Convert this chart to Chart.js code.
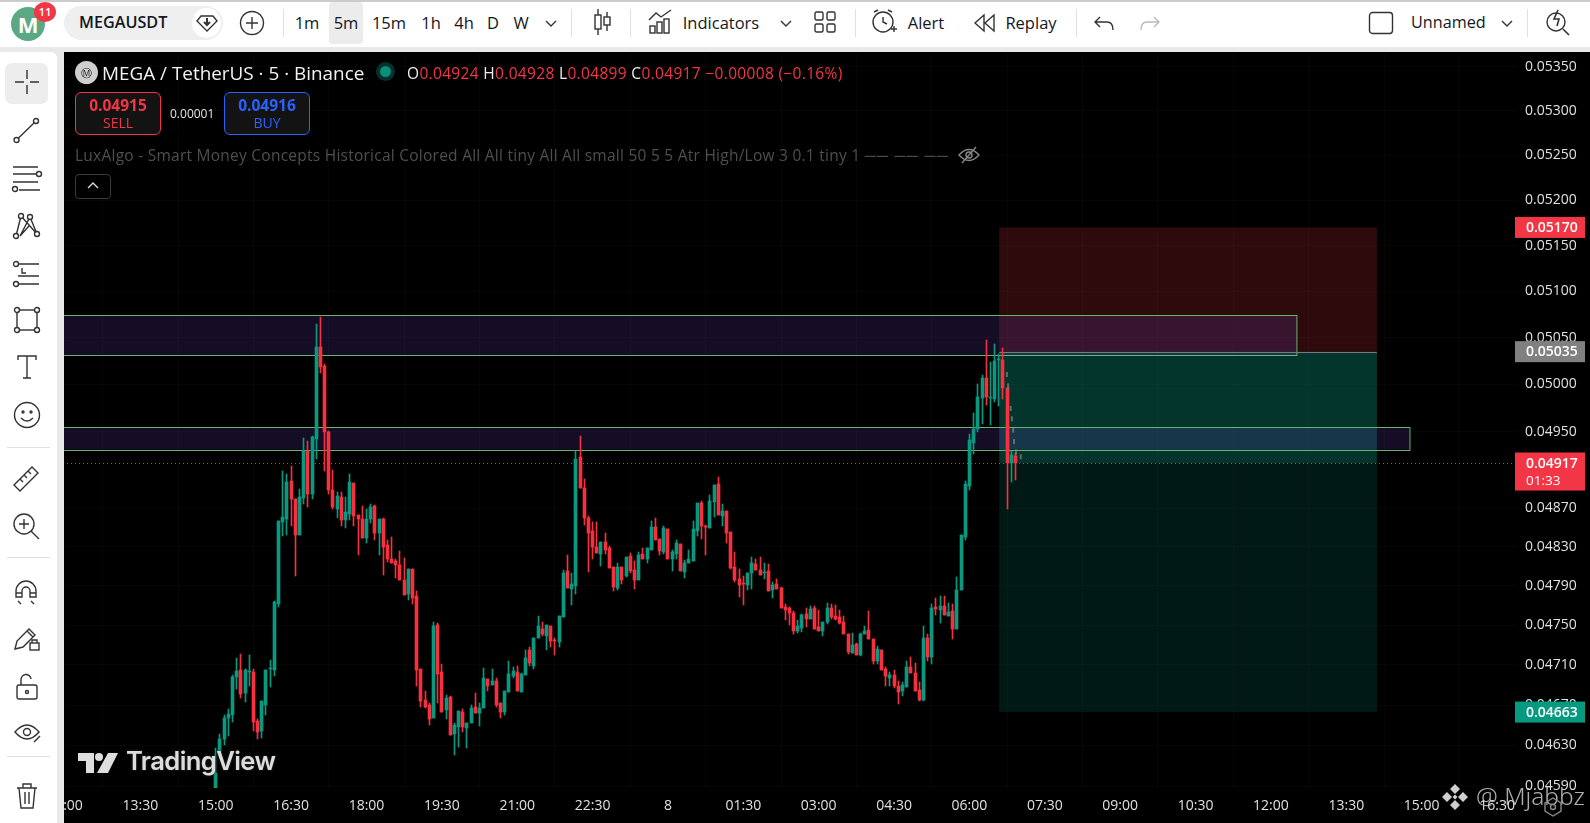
<!DOCTYPE html>
<html><head><meta charset="utf-8">
<script src="https://cdn.jsdelivr.net/npm/chart.js@4"></script>
<style>
html,body{margin:0;padding:0;width:1590px;height:823px;overflow:hidden;background:#e9e9e9;font-family:"Open Sans","Noto Sans",sans-serif}
.a{position:absolute;white-space:nowrap}
#chartbg{position:absolute;left:64px;top:52px;width:1526px;height:771px;background:#000}
#wrap{position:absolute;left:0;top:42px;width:1590px;height:781px}
#top{position:absolute;left:0;top:0;width:1590px;height:47px;background:#fff;box-shadow:inset 0 2px 0 #ccc}
#gap{position:absolute;left:0;top:47px;width:1590px;height:5px;background:#e9e9e9}
#side{position:absolute;left:0;top:52px;width:57px;height:771px;background:#fff;border-top-right-radius:6px}
#gap2{position:absolute;left:57px;top:47px;width:7px;height:776px;background:#e9e9e9}
.t{font-size:16.5px;color:#131722;transform:translateX(-50%);top:11px}
.sep{position:absolute;top:9px;width:1px;height:28px;background:#e0e0e0}
svg{position:absolute;overflow:visible;fill:none;stroke:#333;stroke-width:1.4}
.hsep{position:absolute;left:7px;width:43px;height:1px;background:#e0e0e0}
</style></head><body>
<div id="chartbg"></div>
<div id="wrap"><canvas id="c" width="1590" height="781"></canvas></div>

<div class="a" style="left:78px;top:753px">
 <svg width="40" height="20" style="left:0;top:0;stroke:none;fill:#ddd" viewBox="0 0 40 20"><path d="M0 0H16V20H8V8H0Z"/><circle cx="21" cy="4" r="4"/><path d="M30 0H40L30 20H19Z"/></svg>
 <span class="a" style="left:48px;top:-8px;font:600 25.6px Inter,sans-serif;letter-spacing:-.6px;color:#ddd;text-shadow:0 0 3px #333">TradingView</span>
</div>
<div class="a" style="left:102px;top:60px;font-size:18.9px;color:#f2f2f2;font-weight:500">MEGA / TetherUS · 5 · Binance</div>
<div class="a" style="left:75px;top:61px;width:23px;height:23px;border-radius:50%;background:#cfcfcf;color:#222;font-size:11px;line-height:23px;text-align:center">Ⓜ</div>
<div class="a" style="left:380px;top:66px;width:11px;height:11px;border-radius:50%;background:#0b8f78;box-shadow:0 0 0 4px #06302b"></div>
<div class="a" style="left:407px;top:62px;font-size:15.5px;letter-spacing:.33px;color:#f23645"><span style="color:#eee">O</span>0.04924 <span style="color:#eee">H</span>0.04928 <span style="color:#eee">L</span>0.04899 <span style="color:#eee">C</span>0.04917 −0.00008 (−0.16%)</div>
<div class="a" style="left:75px;top:92px;width:86px;height:43px;box-sizing:border-box;border:1px solid #f23645;border-radius:6px;background:#131313;color:#f23645;text-align:center">
 <div style="font-weight:700;font-size:15.5px;line-height:18px;margin-top:3px">0.04915</div><div style="font-size:14px;line-height:18px">SELL</div></div>
<div class="a" style="left:170px;top:105px;font-size:12px;color:#e5e5e5">0.00001</div>
<div class="a" style="left:224px;top:92px;width:86px;height:43px;box-sizing:border-box;border:1px solid #2962ff;border-radius:6px;background:#131313;color:#2962ff;text-align:center">
 <div style="font-weight:700;font-size:15.5px;line-height:18px;margin-top:3px">0.04916</div><div style="font-size:14px;line-height:18px">BUY</div></div>
<div class="a" style="left:75px;top:144px;font-size:15.5px;letter-spacing:.25px;color:#4f4f4f">LuxAlgo - Smart Money Concepts Historical Colored All All tiny All All small 50 5 5 Atr High/Low 3 0.1 tiny 1 <span style="letter-spacing:1.3px">── ── ──</span></div>
<svg width="22" height="18" style="left:958px;top:146px;stroke:#888"><path d="M1 9Q11 -2 21 9Q11 20 1 9Z"/><circle cx="11" cy="9" r="3"/><path d="M4 17L18 1"/></svg>
<div class="a" style="left:75px;top:174px;width:36px;height:25px;box-sizing:border-box;border:1px solid #3a3a3a;border-radius:4px"></div>
<svg width="10" height="6" style="left:88px;top:183px;stroke:#ddd"><path d="M0 5L5 0L10 5"/></svg>

<div class="a" style="left:1476px;top:779px;font:300 24.5px 'Noto Sans',sans-serif;color:rgba(205,205,205,.85)">@ Mjabbz</div>
<svg width="26" height="26" viewBox="0 0 26 26" style="left:1442px;top:784px;stroke:none;fill:#cfcfcf"><path d="M13 0L18 5L13 10L8 5ZM5 8L10 13L5 18L0 13ZM21 8L26 13L21 18L16 13ZM13 16L18 21L13 26L8 21ZM13 10.5L15.5 13L13 15.5L10.5 13Z"/></svg>
<svg width="18" height="18" style="left:1544px;top:798px;stroke:#888"><path d="M9 0L17 5V13L9 18L1 13V5Z"/><circle cx="9" cy="9" r="2.5"/></svg>

<div id="gap"></div><div id="gap2"></div>
<div id="top">
 <div class="a" style="left:11px;top:7px;width:34px;height:34px;border-radius:50%;background:#5aa884;color:#fff;font-size:22px;font-weight:700;line-height:34px;text-align:center">M</div>
 <div class="a" style="left:34px;top:2px;width:22px;height:20px;border-radius:50%;background:#f23645;color:#fff;font-size:11.5px;line-height:20px;text-align:center;font-weight:600">11</div>
 <div class="a" style="left:64px;top:6px;width:159px;height:34px;border-radius:17px;background:#efefef"></div>
 <div class="a" style="left:79px;top:11px;font-size:16.2px;font-weight:600;color:#131722">MEGAUSDT</div>
 <div class="a" style="left:192px;top:8px;width:29px;height:30px;border-radius:50%;background:#fff"></div>
 <svg width="20" height="16" style="left:197px;top:15px"><path d="M4 1H16L20 6L10 16L0 6Z"/><path d="M10 3V9M7 7L10 10L13 7" stroke-width="2"/></svg>
 <svg width="24" height="24" style="left:240px;top:11px"><circle cx="12" cy="12" r="11.5"/><path d="M12 6V18M6 12H18"/></svg>
 <div class="sep" style="left:283px"></div>
 <div class="a" style="left:329px;top:2px;width:34px;height:42px;background:#ececec;border-radius:4px"></div>
 <div class="a t" style="left:307px">1m</div><div class="a t" style="left:346px">5m</div><div class="a t" style="left:389px">15m</div>
 <div class="a t" style="left:431px">1h</div><div class="a t" style="left:464px">4h</div><div class="a t" style="left:493px">D</div><div class="a t" style="left:521px">W</div>
 <svg width="10" height="5" style="left:546px;top:21px"><path d="M0 0L5 5L10 0"/></svg>
 <div class="sep" style="left:571px"></div>
 <svg width="20" height="26" style="left:592px;top:9px"><path d="M6 0V26M15 3V22"/><rect x="3" y="6" width="6" height="14" fill="#fff"/><rect x="12" y="8" width="6" height="8" fill="#fff"/></svg>
 <div class="sep" style="left:630px"></div>
 <svg width="24" height="24" style="left:649px;top:10px"><path d="M0 10L7 3L12 7L22 0"/><rect x="1" y="16" width="5" height="7"/><rect x="8" y="12" width="5" height="11"/><rect x="15" y="9" width="5" height="14"/></svg>
 <div class="a t" style="left:721px">Indicators</div>
 <svg width="10" height="5" style="left:781px;top:21px"><path d="M0 0L5 5L10 0"/></svg>
 <svg width="22" height="22" style="left:814px;top:11px"><rect x="1" y="1" width="8" height="8" rx="1.5"/><rect x="13" y="1" width="8" height="8" rx="1.5"/><rect x="1" y="13" width="8" height="8" rx="1.5"/><rect x="13" y="13" width="8" height="8" rx="1.5"/></svg>
 <div class="sep" style="left:855px"></div>
 <svg width="26" height="26" style="left:871px;top:9px"><circle cx="12" cy="13" r="10"/><path d="M12 8V13L16 15M3 3L7 1M21 3L17 1M20 20H26M23 17V23"/></svg>
 <div class="a t" style="left:926px">Alert</div>
 <svg width="22" height="16" style="left:973px;top:15px"><path d="M11 0L2 8L11 16ZM21 0L12 8L21 16Z"/></svg>
 <div class="a t" style="left:1031px">Replay</div>
 <div class="sep" style="left:1076px"></div>
 <svg width="18" height="12" style="left:1095px;top:17px"><path d="M5 0L0 5L5 10M0 5H12Q18 5 18 13"/></svg>
 <svg width="18" height="12" style="left:1141px;top:17px;stroke:#bbb"><path d="M13 0L18 5L13 10M18 5H6Q0 5 0 13"/></svg>
 <svg width="24" height="21" style="left:1369px;top:12px"><rect x="0.5" y="0.5" width="23" height="21" rx="3"/></svg>
 <div class="a" style="left:1411px;top:11px;font-size:16.2px;color:#131722">Unnamed</div>
 <svg width="10" height="5" style="left:1502px;top:21px"><path d="M0 0L5 5L10 0"/></svg>
 <div class="sep" style="left:1527px"></div>
 <svg width="24" height="26" style="left:1546px;top:8px"><circle cx="10" cy="14" r="9"/><path d="M17 21L23 27M12 2L8 11H13L11 18" stroke-width="1.6"/></svg>
</div>
<div id="side">
 <div class="a" style="left:5px;top:11px;width:43px;height:41px;background:#ededed;border-radius:7px"></div>
 <svg width="30" height="30" style="left:12px;top:15px"><path d="M15 3V12M15 18V27M3 15H12M18 15H27"/></svg>
 <svg width="24" height="24" style="left:14px;top:66px"><circle cx="22" cy="3" r="2.5"/><circle cx="2.5" cy="22" r="2.5"/><path d="M20 5L4.5 20"/></svg>
 <svg width="30" height="24" style="left:12px;top:114px"><path d="M1 1H26M1 8H24M1 16H26M7 24H28"/><circle cx="27" cy="8" r="2.5"/><circle cx="3" cy="23" r="2.5"/></svg>
 <svg width="26" height="26" style="left:13px;top:160px"><path d="M3 24L8 4L24 22L17 5L7 24L16 14"/><circle cx="3" cy="24" r="2.5" fill="#fff"/><circle cx="8" cy="4" r="2.5" fill="#fff"/><circle cx="24" cy="22" r="2.5" fill="#fff"/><circle cx="17" cy="5" r="2.5" fill="#fff"/></svg>
 <svg width="30" height="26" style="left:13px;top:209px"><circle cx="3" cy="3" r="2.5"/><circle cx="3" cy="23" r="2.5"/><path d="M6 3H26M5 15H26M6 23H26M9 7V12H13"/></svg>
 <svg width="26" height="26" style="left:14px;top:255px"><rect x="3" y="3" width="20" height="20"/><circle cx="3" cy="3" r="2.5" fill="#fff"/><circle cx="23" cy="3" r="2.5" fill="#fff"/><circle cx="3" cy="23" r="2.5" fill="#fff"/><circle cx="23" cy="23" r="2.5" fill="#fff"/></svg>
 <svg width="20" height="24" style="left:17px;top:303px"><path d="M1 5V1H19V5M10 1V23M6 23H14"/></svg>
 <svg width="26" height="26" style="left:14px;top:350px"><circle cx="13" cy="13" r="12.5"/><circle cx="9" cy="10" r="1"/><circle cx="17" cy="10" r="1"/><path d="M7 16Q13 22 19 16"/></svg>
 <div class="hsep" style="top:395px"></div>
 <svg width="28" height="28" style="left:12px;top:413px"><path d="M2 20L20 2L26 8L8 26ZM8 14L11 17M12 10L15 13M16 6L19 9"/></svg>
 <svg width="26" height="26" style="left:13px;top:461px"><circle cx="11" cy="11" r="10"/><path d="M18 18L26 26M6 11H16M11 6V16"/></svg>
 <div class="hsep" style="top:505px"></div>
 <svg width="24" height="28" style="left:15px;top:527px"><path d="M1 12A10 10 0 0 1 21 12V18H15V12A4 4 0 0 0 7 12V18H1ZM1 14H7M15 14H21M3 22L6 25M16 22L19 25"/></svg>
 <svg width="26" height="26" style="left:13px;top:573px"><path d="M2 24L4 16L16 4L22 10L10 22ZM14 6L20 12"/><rect x="17" y="18" width="9" height="7"/><path d="M19 18V15H24V18"/></svg>
 <svg width="22" height="26" style="left:16px;top:622px"><rect x="1" y="11" width="20" height="14" rx="2"/><path d="M5 11V6A5 5 0 0 1 15 5"/><circle cx="11" cy="18" r="1.5"/></svg>
 <svg width="26" height="22" style="left:14px;top:670px"><path d="M1 10Q13 -4 25 10Q13 24 1 10Z"/><circle cx="13" cy="10" r="3.5"/><path d="M20 20L26 14"/></svg>
 <div class="hsep" style="top:704px"></div>
 <svg width="22" height="26" style="left:16px;top:731px"><path d="M1 5H21M7 5V1H15V5M3 5L5 25H17L19 5M9 9V21M13 9V21"/></svg>
</div>

<script>
// Prices are in units of 0.00001. First candle sits at category index 36 (15:00).
const firstCandle = 36;
const open = [
4586,4624,4636,4657,4660,4698,4705,4682,4703,4703,
4654,4644,4670,4706,4705,4772,4856,4859,4898,4879,
4842,4880,4930,4885,4942,5040,5020,4950,4889,4869,
4882,4858,4864,4896,4863,4859,4839,4859,4872,4844,
4859,4832,4818,4815,4811,4796,4782,4807,4780,4706,
4675,4670,4657,4750,4703,4665,4678,4641,4648,4663,
4647,4652,4668,4662,4667,4696,4690,4694,4672,4663,
4683,4699,4703,4683,4700,4725,4709,4737,4746,4739,
4749,4735,4733,4758,4805,4787,4790,4923,4891,4860,
4846,4830,4823,4835,4829,4809,4788,4809,4800,4821,
4806,4796,4823,4817,4827,4850,4838,4825,4848,4818,
4823,4833,4804,4813,4815,4846,4875,4852,4849,4876,
4895,4862,4867,4845,4809,4797,4793,4791,4803,4812,
4806,4803,4805,4786,4792,4788,4769,4767,4762,4744,
4747,4761,4756,4768,4748,4744,4753,4767,4759,4758,
4753,4741,4722,4731,4720,4741,4745,4736,4714,4725,
4706,4697,4700,4689,4684,4688,4708,4702,4685,4675,
4737,4718,4769,4765,4770,4759,4764,4746,4786,4840,
4893,4938,4953,4986,5007,4986,4985,5026,5026,4996,
4917,4924];
const high = [
4627,4641,4660,4666,4700,4717,4721,4706,4720,4706,
4656,4674,4705,4715,4775,4857,4909,4906,4914,4879,
4890,4943,4940,4945,5065,5072,5022,4951,4910,4887,
4887,4882,4905,4896,4863,4872,4869,4874,4873,4859,
4860,4837,4840,4817,4826,4819,4807,4807,4785,4706,
4684,4672,4753,4752,4711,4680,4679,4652,4664,4666,
4652,4670,4682,4672,4707,4696,4706,4697,4672,4684,
4714,4708,4709,4702,4725,4728,4737,4759,4753,4750,
4749,4737,4759,4806,4822,4803,4930,4945,4900,4862,
4856,4856,4835,4844,4831,4809,4813,4809,4820,4824,
4815,4825,4829,4829,4857,4860,4838,4851,4848,4827,
4837,4833,4816,4827,4857,4875,4877,4853,4884,4894,
4902,4874,4867,4845,4825,4807,4800,4803,4820,4818,
4820,4813,4812,4794,4797,4789,4772,4769,4764,4755,
4761,4767,4770,4770,4765,4753,4773,4772,4771,4765,
4759,4741,4742,4732,4742,4749,4764,4736,4729,4725,
4708,4703,4705,4694,4693,4714,4718,4712,4693,4749,
4741,4772,4778,4780,4780,4773,4772,4799,4842,4898,
4948,4970,5000,5010,5048,5024,5043,5032,5039,4996,
4930,4928];
const low = [
4586,4623,4630,4639,4653,4686,4677,4673,4689,4644,
4636,4637,4660,4688,4699,4769,4841,4842,4851,4800,
4842,4874,4871,4879,4921,5012,4909,4885,4869,4860,
4851,4849,4858,4852,4822,4839,4834,4855,4837,4822,
4801,4814,4813,4798,4796,4781,4776,4772,4689,4668,
4667,4650,4657,4672,4663,4656,4640,4621,4628,4643,
4627,4652,4662,4649,4667,4684,4690,4668,4657,4660,
4683,4697,4684,4683,4700,4709,4706,4737,4739,4725,
4728,4720,4728,4758,4788,4771,4782,4891,4853,4804,
4818,4824,4810,4823,4808,4785,4786,4792,4799,4803,
4787,4796,4817,4813,4827,4837,4822,4823,4817,4805,
4818,4805,4798,4813,4815,4841,4838,4822,4849,4861,
4863,4851,4834,4807,4794,4779,4771,4786,4787,4806,
4801,4797,4785,4778,4787,4768,4755,4750,4741,4742,
4743,4748,4756,4746,4744,4739,4751,4756,4755,4751,
4741,4721,4722,4720,4719,4741,4736,4711,4711,4705,
4689,4689,4687,4671,4679,4688,4702,4684,4674,4674,
4714,4711,4760,4752,4760,4759,4736,4746,4786,4837,
4889,4926,4950,4958,4978,4957,4981,4977,4984,4869,
4897,4899];
const close = [
4603,4636,4657,4661,4698,4704,4681,4705,4704,4653,
4643,4674,4705,4707,4774,4857,4861,4897,4879,4842,
4882,4930,4885,4944,5040,5019,4950,4889,4871,4883,
4858,4866,4897,4862,4859,4839,4859,4871,4844,4859,
4830,4818,4813,4811,4796,4781,4807,4778,4705,4674,
4668,4656,4749,4701,4663,4677,4640,4650,4664,4648,
4652,4667,4662,4667,4697,4689,4694,4670,4663,4684,
4701,4704,4684,4701,4717,4712,4737,4749,4741,4750,
4734,4734,4759,4803,4788,4792,4921,4891,4860,4844,
4830,4824,4835,4827,4808,4789,4809,4796,4820,4805,
4796,4822,4818,4829,4850,4837,4826,4849,4818,4825,
4834,4805,4813,4817,4848,4875,4851,4851,4877,4894,
4863,4867,4844,4808,4796,4791,4792,4803,4813,4806,
4801,4804,4785,4791,4787,4768,4765,4762,4744,4749,
4760,4756,4766,4746,4744,4753,4767,4758,4756,4752,
4741,4723,4730,4720,4741,4744,4736,4714,4726,4705,
4699,4700,4689,4683,4690,4708,4702,4684,4675,4737,
4718,4767,4766,4770,4760,4763,4746,4786,4842,4895,
4941,4953,4987,5007,4987,4987,5025,5027,4996,4917,
4925,4917];

const priceTicks = [4590,4630,4670,4710,4750,4790,4830,4870,4950,5000,5050,5100,5150,5200,5250,5300,5350];
const timeTicks = ['12:00','13:30','15:00','16:30','18:00','19:30','21:00','22:30','8','01:30','03:00','04:30','06:00','07:30','09:00','10:30','12:00','13:30','15:00','16:30'];
const barsPerTick = 18, slotCount = 348;
const priceMin = 4588.2, priceMax = 5366.8;

// Supply zones [top, bottom, last category index]
const zoneTop = [5074, 4955], zoneBottom = [5031, 4931], zoneEnd = [294.2, 321.2];
// Short position tool
const stopPrice = 5170, entryPrice = 5035, targetPrice = 4663, lastPrice = 4917;
const toolStart = 223.1, toolEnd = 313.3;
// Faint dashed trail by the last candles
const trailIndex = [224.7,225,225.6,225.9,226.2,226.4,226.9,228];
const trailPrice = [5010,4998,4974,4963,4951,4939,4928,4923];

const GREEN = '#089981', RED = '#f5303f';
const categories = Array.from({length: slotCount}, (_, i) => i % barsPerTick === 0 ? timeTicks[i / barsPerTick] : '');
const at = (i, f) => (i >= firstCandle && i - firstCandle < open.length) ? f(i - firstCandle) : null;
const wicks = categories.map((_, i) => at(i, k => [low[k], high[k]]));
const bodies = categories.map((_, i) => at(i, k => [Math.min(open[k], close[k]), Math.max(open[k], close[k])]));
const colorOf = c => { const k = c.dataIndex - firstCandle; return close[k] >= open[k] ? GREEN : RED; };
const fmt = v => (v / 1e5).toFixed(5);

const overlay = {
  id: 'overlay',
  // keep the library's positions but land them on whole pixels, as the original candles do
  afterDatasetsUpdate(ch) {
    ch.data.datasets.forEach((_, d) => ch.getDatasetMeta(d).data.forEach(b => {
      if (!isFinite(b.x) || !isFinite(b.y)) return;
      b.x = Math.floor(b.x) + .5; b.y = Math.round(b.y); b.base = Math.round(b.base);
      if (b.y === b.base) b.base = b.y + 1;
    }));
  },
  beforeDatasetsDraw(ch) {
    const g = ch.ctx, X = ch.scales.x, Y = ch.scales.y, A = ch.chartArea;
    const rect = (x0, x1, p0, p1, col) => { g.fillStyle = col; g.fillRect(x0, Y.getPixelForValue(p0), x1 - x0, Y.getPixelForValue(p1) - Y.getPixelForValue(p0)); };
    const tx0 = X.getPixelForValue(toolStart), tx1 = X.getPixelForValue(toolEnd);
    g.save();
    g.beginPath(); g.rect(A.left - 2, A.top, A.right - A.left + 2, A.bottom - A.top); g.clip();
    rect(tx0, tx1, stopPrice, entryPrice, 'rgba(242,54,69,0.19)');
    rect(tx0, tx1, entryPrice, lastPrice, 'rgba(8,153,129,0.35)');
    rect(tx0, tx1, lastPrice, targetPrice, 'rgba(8,153,129,0.16)');
    zoneTop.forEach((t, i) => {
      const x1 = X.getPixelForValue(zoneEnd[i]), y0 = Y.getPixelForValue(t), y1 = Y.getPixelForValue(zoneBottom[i]);
      g.fillStyle = 'rgba(103,58,183,0.2)'; g.fillRect(A.left - 2, y0, x1 - A.left + 2, y1 - y0);
      g.strokeStyle = '#66b56a'; g.lineWidth = 1;
      g.strokeRect(A.left - 10, Math.round(y0) + .5, x1 - A.left + 10, Math.round(y1 - y0));
    });
    g.strokeStyle = '#787b86'; g.lineWidth = 1;
    const ey = Math.round(Y.getPixelForValue(entryPrice)) + .5;
    g.beginPath(); g.moveTo(tx0, ey); g.lineTo(tx1, ey); g.stroke();
    const ly = Math.round(Y.getPixelForValue(lastPrice)) + .5;
    g.strokeStyle = RED; g.setLineDash([1, 3]);
    g.beginPath(); g.moveTo(A.left - 2, ly); g.lineTo(A.right, ly); g.stroke();
    g.setLineDash([]);
    g.restore();
  },
  afterDraw(ch) {
    const g = ch.ctx, X = ch.scales.x, Y = ch.scales.y, A = ch.chartArea;
    g.save();
    g.fillStyle = 'rgba(140,140,140,0.65)';
    trailIndex.forEach((x, i) => g.fillRect(X.getPixelForValue(x), Y.getPixelForValue(trailPrice[i]) - 3, 2, 5));
    g.font = '600 14px "Open Sans",sans-serif'; g.textBaseline = 'middle'; g.textAlign = 'left';
    const tag = (p, bg, extra) => {
      const y = Y.getPixelForValue(p);
      g.fillStyle = bg; g.fillRect(A.right - 3, y - 10.5, 70, extra ? 38 : 21);
      g.fillStyle = '#fff'; g.fillText(fmt(p), A.right + 8, y + .5);
      if (extra) { g.font = '13.5px "Open Sans",sans-serif'; g.fillText(extra, A.right + 8, y + 18); g.font = '600 14px "Open Sans",sans-serif'; }
    };
    tag(stopPrice, '#f23645'); tag(entryPrice, '#808080'); tag(lastPrice, '#f23645', '01:33'); tag(targetPrice, '#089981');
    g.restore();
  }
};

new Chart(document.getElementById('c'), {
  type: 'bar',
  data: { labels: categories, datasets: [
    { label: 'Body', data: bodies, backgroundColor: colorOf, barThickness: 3, order: 1 },
    { label: 'Wick', data: wicks, backgroundColor: colorOf, barThickness: 1, order: 2 }
  ]},
  options: {
    responsive: false, animation: false, devicePixelRatio: 1,
    layout: { padding: { left: 65, top: 10, right: 0, bottom: 0 } },
    plugins: { legend: { display: false }, tooltip: { enabled: false } },
    datasets: { bar: { grouped: false, borderWidth: 0, borderSkipped: false } },
    scales: {
      x: { type: 'category', offset: false,
        grid: { color: 'rgba(255,255,255,0.025)', drawTicks: false }, border: { display: false },
        afterBuildTicks(s) { s.ticks = s.ticks.filter(t => t.value % barsPerTick === 0); },
        afterFit(s) { s.height = 35; s.paddingLeft = 0; s.paddingRight = 0; },
        ticks: { autoSkip: false, maxRotation: 0, padding: 10, color: '#e0e0e0', font: { family: '"Open Sans",sans-serif', size: 14, weight: 500 },
          callback(v) { return categories[v]; } } },
      y: { type: 'logarithmic', position: 'right', min: priceMin, max: priceMax,
        grid: { color: 'rgba(255,255,255,0.025)', drawTicks: false }, border: { display: false },
        afterBuildTicks(s) { s.ticks = priceTicks.map(v => ({ value: v })); },
        afterFit(s) { s.width = 72; s.paddingTop = 0; s.paddingBottom = 0; },
        ticks: { autoSkip: false, padding: 7, color: '#e0e0e0', font: { family: '"Open Sans",sans-serif', size: 14, weight: 500 }, callback: v => fmt(v) } }
    }
  },
  plugins: [overlay]
});
</script>
</body></html>
